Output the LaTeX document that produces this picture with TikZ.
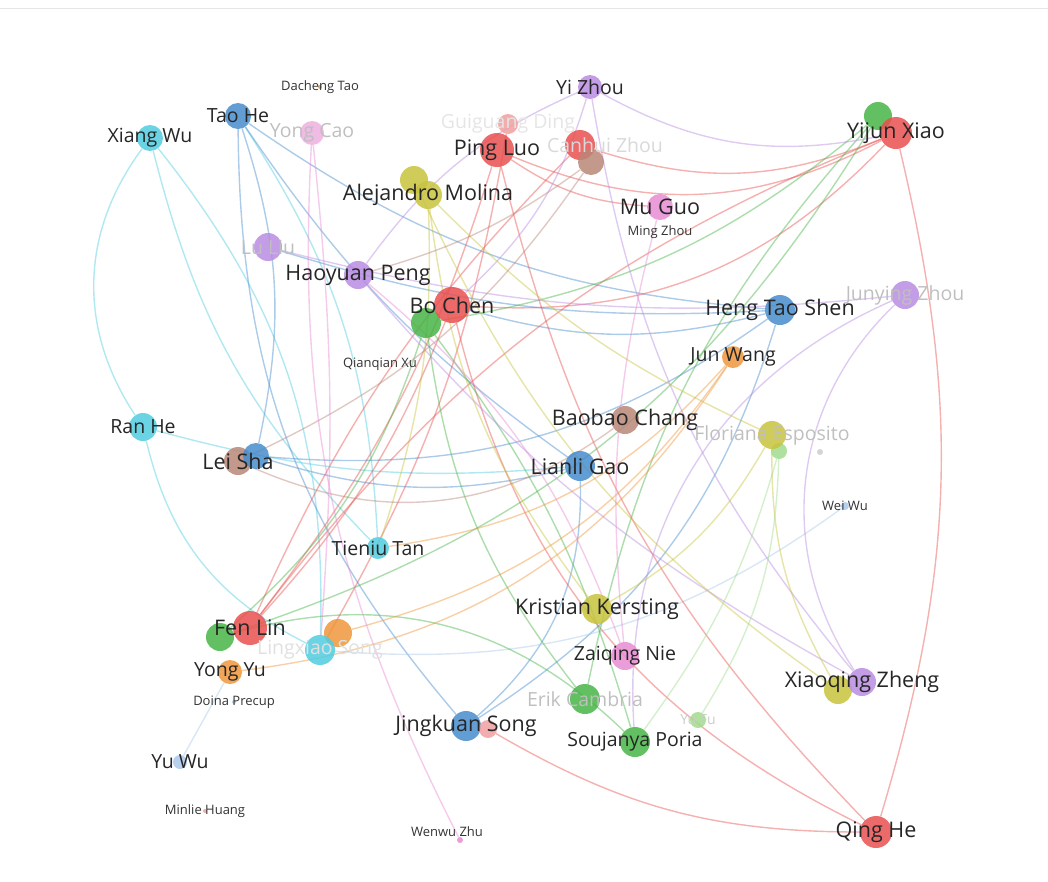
\documentclass[tikz,border=0pt]{standalone}
\usepackage{fontspec}
\setmainfont{Open Sans}
\usetikzlibrary{backgrounds}
\definecolor{vred}{RGB}{233,80,80}
\definecolor{vgreen}{RGB}{70,180,70}
\definecolor{vblue}{RGB}{70,140,205}
\definecolor{vpurple}{RGB}{185,140,225}
\definecolor{vcyan}{RGB}{80,205,225}
\definecolor{vorange}{RGB}{240,150,60}
\definecolor{vyellow}{RGB}{200,195,60}
\definecolor{vbrown}{RGB}{185,135,120}
\definecolor{vpink}{RGB}{230,140,210}
\definecolor{vlgreen}{RGB}{160,220,140}
\definecolor{vlblue}{RGB}{170,200,235}
\definecolor{vlred}{RGB}{240,160,160}
\tikzstyle{dot}=[circle, inner sep=0pt, fill opacity=0.85]
\tikzstyle{big}=[font=\fontsize{21.5}{23}\selectfont, text=black!85]
\tikzstyle{mid}=[font=\fontsize{19.5}{21}\selectfont, text=black!85]
\tikzstyle{small}=[font=\fontsize{13}{14}\selectfont, text=black!80]
\tikzstyle{faded}=[font=\fontsize{19.5}{21}\selectfont, text=black!25]
\tikzstyle{edge}=[line width=1.4pt, draw opacity=0.45]
\newcommand{\conn}[4]{\draw[edge, #1] (#2) to[bend left=#4] (#3);}

\begin{document}
\begin{tikzpicture}[x=1pt, y=-1pt]
\useasboundingbox (0,0) rectangle (1048,881);
\draw[black!10, line width=1pt] (0,8) -- (1048,8);

% nodes
\node[dot, fill=vpurple, minimum size=24pt] (yizhou) at (590,87) {};
\node[dot, fill=vorange, minimum size=4pt] (dacheng) at (320,87) {};
\node[dot, fill=vblue, minimum size=26pt] (taohe) at (238,116) {};
\node[dot, fill=vcyan, minimum size=26pt] (xiangwu) at (150,138) {};
\node[dot, fill=vpink!70, minimum size=24pt] (yongcao) at (312,133) {};
\node[dot, fill=vlred, minimum size=20pt] (guiguang) at (508,124) {};
\node[dot, fill=vred, minimum size=30pt] (canhui) at (580,145) {};
\node[dot, fill=vbrown, minimum size=26pt] (canhuib) at (591,162) {};
\node[dot, fill=vred, minimum size=34pt] (pingluo) at (497,150) {};
\node[dot, fill=vgreen, minimum size=28pt] (yijung) at (878,116) {};
\node[dot, fill=vred, minimum size=32pt] (yijun) at (896,133) {};
\node[dot, fill=vyellow, minimum size=28pt] (alejandroy) at (414,180) {};
\node[dot, fill=vyellow, minimum size=28pt] (alejandro) at (428,195) {};
\node[dot, fill=vpink, minimum size=26pt] (muguo) at (660,207) {};
\node[dot, fill=vpurple, minimum size=28pt] (luliu) at (268,247) {};
\node[dot, fill=vpurple, minimum size=28pt] (haoyuan) at (358,275) {};
\node[dot, fill=vgreen, minimum size=30pt] (bochenG) at (426,323) {};
\node[dot, fill=vred, minimum size=36pt] (bochen) at (452,305) {};
\node[dot, fill=vpurple, minimum size=28pt] (junying) at (905,295) {};
\node[dot, fill=vblue, minimum size=30pt] (hengtao) at (780,310) {};
\node[dot, fill=vorange, minimum size=22pt] (junwang) at (733,357) {};
\node[dot, fill=vcyan, minimum size=28pt] (ranhe) at (143,427) {};
\node[dot, fill=vbrown, minimum size=28pt] (baobao) at (625,420) {};
\node[dot, fill=vlgreen, minimum size=16pt] (florianag) at (779,451) {};
\node[dot, fill=black!20, minimum size=6pt] (florianax) at (820,452) {};
\node[dot, fill=vyellow, minimum size=28pt] (floriana) at (772,435) {};
\node[dot, fill=vbrown, minimum size=28pt] (leisha) at (238,461) {};
\node[dot, fill=vblue, minimum size=26pt] (leishab) at (256,456) {};
\node[dot, fill=vblue, minimum size=30pt] (lianli) at (580,466) {};
\node[dot, fill=vlblue, minimum size=8pt] (weiwu) at (845,506) {};
\node[dot, fill=vcyan, minimum size=22pt] (tieniu) at (378,548) {};
\node[dot, fill=vyellow, minimum size=30pt] (kristian) at (597,609) {};
\node[dot, fill=vgreen, minimum size=28pt] (fenling) at (220,637) {};
\node[dot, fill=vred, minimum size=34pt] (fenlin) at (250,628) {};
\node[dot, fill=vorange, minimum size=28pt] (lingxiaoo) at (338,633) {};
\node[dot, fill=vcyan, minimum size=30pt] (lingxiao) at (320,650) {};
\node[dot, fill=vpink, minimum size=28pt] (zaiqing) at (625,656) {};
\node[dot, fill=vorange, minimum size=24pt] (yongyu) at (230,672) {};
\node[dot, fill=vyellow, minimum size=28pt] (xiaoqingy) at (838,690) {};
\node[dot, fill=vpurple, minimum size=28pt] (xiaoqing) at (862,682) {};
\node[dot, fill=vlblue, minimum size=4pt] (doina) at (234,702) {};
\node[dot, fill=vgreen, minimum size=30pt] (erik) at (585,699) {};
\node[dot, fill=vblue, minimum size=30pt] (jingkuan) at (466,726) {};
\node[dot, fill=vlred, minimum size=18pt] (jingkuanr) at (488,729) {};
\node[dot, fill=vgreen, minimum size=30pt] (soujanya) at (635,742) {};
\node[dot, fill=vlgreen, minimum size=16pt] (yufu) at (698,720) {};
\node[dot, fill=vlblue, minimum size=14pt] (yuwu) at (180,762) {};
\node[dot, fill=vlred, minimum size=4pt] (minlie) at (205,811) {};
\node[dot, fill=vpink, minimum size=6pt] (wenwu) at (460,840) {};
\node[dot, fill=vred, minimum size=32pt] (qinghe) at (876,832) {};

% links
\begin{scope}[on background layer]
\conn{vcyan}{xiangwu}{ranhe}{-35}
\conn{vcyan}{xiangwu}{lingxiao}{20}
\conn{vcyan}{xiangwu}{tieniu}{-15}
\conn{vcyan}{ranhe}{lingxiao}{-25}
\conn{vcyan}{ranhe}{lianli}{-10}
\conn{vcyan}{taohe}{tieniu}{15}
\conn{vblue}{taohe}{leishab}{15}
\conn{vblue}{taohe}{jingkuan}{-20}
\conn{vblue}{taohe}{hengtao}{-15}
\conn{vblue}{taohe}{lianli}{-10}
\conn{vblue}{leishab}{hengtao}{-20}
\conn{vblue}{leishab}{lianli}{-15}
\conn{vblue}{lianli}{jingkuan}{25}
\conn{vblue}{hengtao}{jingkuan}{20}
\conn{vblue}{bochen}{hengtao}{-15}
\conn{vblue}{luliu}{hengtao}{-10}
\conn{vlblue}{yongyu}{yuwu}{0}
\conn{vlblue}{lingxiao}{weiwu}{-20}
\conn{vred}{pingluo}{qinghe}{-15}
\conn{vred}{pingluo}{fenlin}{10}
\conn{vred}{bochen}{fenlin}{10}
\conn{vred}{bochen}{qinghe}{-25}
\conn{vred}{yijun}{fenlin}{-15}
\conn{vred}{yijun}{qinghe}{15}
\conn{vred}{yijun}{pingluo}{25}
\conn{vred}{canhui}{fenlin}{-10}
\conn{vred}{canhui}{yijun}{-20}
\conn{vred}{bochen}{yijun}{-25}
\conn{vred}{pingluo}{muguo}{-15}
\conn{vred}{jingkuanr}{qinghe}{-15}
\conn{vred}{guiguang}{lingxiao}{10}
\conn{vgreen}{yijung}{bochenG}{15}
\conn{vgreen}{yijung}{erik}{-15}
\conn{vgreen}{yijung}{fenling}{20}
\conn{vgreen}{fenling}{soujanya}{30}
\conn{vgreen}{bochenG}{erik}{-15}
\conn{vgreen}{bochenG}{soujanya}{10}
\conn{vgreen}{fenling}{bochenG}{-15}
\conn{vpurple}{yizhou}{haoyuan}{-15}
\conn{vpurple}{yizhou}{xiaoqing}{-15}
\conn{vpurple}{yizhou}{yijun}{-20}
\conn{vpurple}{luliu}{junying}{-10}
\conn{vpurple}{haoyuan}{xiaoqing}{-10}
\conn{vpurple}{junying}{xiaoqing}{-40}
\conn{vpurple}{junying}{soujanya}{-35}
\conn{vpurple}{yizhou}{bochen}{15}
\conn{vyellow}{alejandro}{kristian}{-15}
\conn{vyellow}{alejandro}{floriana}{-10}
\conn{vyellow}{alejandroy}{xiaoqingy}{-15}
\conn{vyellow}{floriana}{kristian}{15}
\conn{vyellow}{floriana}{xiaoqingy}{-15}
\conn{vyellow}{alejandro}{tieniu}{10}
\conn{vorange}{junwang}{lingxiaoo}{20}
\conn{vorange}{yongyu}{junwang}{-25}
\conn{vorange}{junwang}{tieniu}{20}
\conn{vbrown}{baobao}{leisha}{30}
\conn{vbrown}{canhuib}{leisha}{15}
\conn{vbrown}{canhuib}{haoyuan}{10}
\conn{vpink}{yongcao}{lingxiao}{5}
\conn{vpink}{muguo}{zaiqing}{-10}
\conn{vpink}{yongcao}{wenwu}{-15}
\conn{vpink}{haoyuan}{zaiqing}{15}
\conn{vlgreen}{florianag}{yufu}{15}
\conn{vlgreen}{florianag}{soujanya}{10}
\end{scope}

% labels
\node[mid] (l-yizhou) at (yizhou) {Yi Zhou};
\node[small] (l-dacheng) at (dacheng) {Dacheng Tao};
\node[mid] (l-taohe) at (taohe) {Tao He};
\node[mid] (l-xiangwu) at (xiangwu) {Xiang Wu};
\node[faded] (l-yongcao) at (yongcao) {Yong Cao};
\node[faded, black!10] (l-guiguang) at (guiguang) {Guiguang Ding};
\node[faded, black!15] (l-canhui) at (605,145) {Canhui Zhou};
\node[big] (l-pingluo) at (pingluo) {Ping Luo};
\node[big] (l-yijun) at (yijun) {Yijun Xiao};
\node[big] (l-alejandro) at (alejandro) {Alejandro Molina};
\node[big] (l-muguo) at (muguo) {Mu Guo};
\node[small] (l-mingzhou) at (660,232) {Ming Zhou};
\node[faded] (l-luliu) at (luliu) {Lu Liu};
\node[big] (l-haoyuan) at (haoyuan) {Haoyuan Peng};
\node[big] (l-bochen) at (bochen) {Bo Chen};
\node[faded] (l-junying) at (junying) {Junying Zhou};
\node[big] (l-hengtao) at (hengtao) {Heng Tao Shen};
\node[mid] (l-junwang) at (junwang) {Jun Wang};
\node[small] (l-qianqian) at (380,364) {Qianqian Xu};
\node[mid] (l-ranhe) at (ranhe) {Ran He};
\node[big] (l-baobao) at (baobao) {Baobao Chang};
\node[faded] (l-floriana) at (floriana) {Floriana Esposito};
\node[big] (l-leisha) at (leisha) {Lei Sha};
\node[big] (l-lianli) at (lianli) {Lianli Gao};
\node[small] (l-weiwu) at (weiwu) {Wei Wu};
\node[mid] (l-tieniu) at (tieniu) {Tieniu Tan};
\node[big] (l-kristian) at (kristian) {Kristian Kersting};
\node[big] (l-fenlin) at (fenlin) {Fen Lin};
\node[faded, black!12] (l-lingxiao) at (lingxiao) {Lingxiao Song};
\node[mid] (l-zaiqing) at (zaiqing) {Zaiqing Nie};
\node[mid] (l-yongyu) at (yongyu) {Yong Yu};
\node[big] (l-xiaoqing) at (xiaoqing) {Xiaoqing Zheng};
\node[small] (l-doina) at (doina) {Doina Precup};
\node[faded] (l-erik) at (erik) {Erik Cambria};
\node[big] (l-jingkuan) at (jingkuan) {Jingkuan Song};
\node[mid] (l-soujanya) at (soujanya) {Soujanya Poria};
\node[faded, font=\fontsize{14}{16}\selectfont, black!20] (l-yufu) at (yufu) {Yu Fu};
\node[mid] (l-yuwu) at (yuwu) {Yu Wu};
\node[small] (l-minlie) at (minlie) {Minlie Huang};
\node[small] (l-wenwu) at (447,832) {Wenwu Zhu};
\node[big] (l-qinghe) at (qinghe) {Qing He};
\end{tikzpicture}
\end{document}
